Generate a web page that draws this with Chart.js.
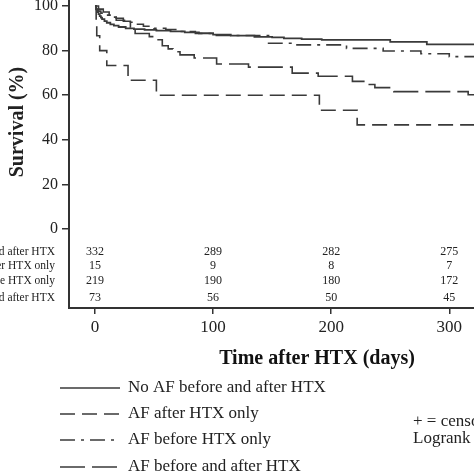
<!DOCTYPE html>
<html>
<head>
<meta charset="utf-8">
<script src="https://cdn.jsdelivr.net/npm/chart.js@4.4.1/dist/chart.umd.min.js"></script>
<style>
html, body { margin: 0; padding: 0; overflow: hidden; background: #fff; width: 474px; height: 474px; }
canvas { display: block; }
</style>
</head>
<body>
<canvas id="km" width="565" height="474"></canvas>
<script>
// group names (legend + number-at-risk rows)
var groups = ['No AF before and after HTX', 'AF after HTX only', 'AF before HTX only', 'AF before and after HTX'];

// survival curves, days / percent
var noAfDays = [0, 1, 2, 3, 4, 5, 6, 8, 10, 13, 16, 20, 26, 33, 42, 52, 64, 76, 88, 100, 115, 135, 150, 160, 175, 192, 250, 281, 398];
var noAfSurv = [100, 98.5, 97.3, 96.4, 95.5, 94.8, 94.1, 93.2, 92.5, 91.8, 91.2, 90.6, 90.0, 89.6, 89.3, 89.0, 88.6, 88.2, 87.8, 87.2, 86.7, 86.2, 85.9, 85.5, 85.2, 84.8, 83.9, 82.8, 82.8];

var afAfterDays = [0, 1, 1.5, 4, 10, 28, 52, 190, 222, 398];
var afAfterSurv = [100, 93.3, 86.7, 80.0, 73.3, 66.7, 60.0, 53.3, 46.7, 46.7];

var afBeforeDays = [0, 1, 3, 5, 8, 12, 18, 25, 33, 41, 50, 60, 72, 85, 100, 147, 170, 213, 244, 276, 300, 398];
var afBeforeSurv = [100, 98.6, 97.7, 96.8, 95.9, 95.0, 93.6, 92.7, 91.8, 90.9, 90.0, 89.5, 88.6, 87.7, 86.8, 83.3, 82.6, 81.0, 79.8, 78.6, 77.3, 77.3];

var afBothDays = [0, 3, 7, 12, 18, 24, 30, 34, 46, 52, 57, 62, 66, 72, 84, 103, 130, 167, 189, 218, 229, 237, 253, 316, 398];
var afBothSurv = [100, 98.6, 97.3, 95.9, 94.5, 93.2, 90.4, 87.7, 86.3, 84.9, 82.2, 80.8, 79.5, 78.1, 76.7, 74.0, 72.6, 69.9, 68.5, 66.2, 64.8, 63.4, 61.6, 60.2, 60.2];

// number at risk
var riskDays = [0, 100, 200, 300];
var riskNoAf = [332, 289, 282, 275];
var riskAfAfter = [15, 9, 8, 7];
var riskAfBefore = [219, 190, 180, 172];
var riskAfBoth = [73, 56, 50, 45];

var xTicks = [0, 100, 200, 300];
var yTicks = [0, 20, 40, 60, 80, 100];

var ink = '#3a3a3a';
var serif = "'Liberation Serif', 'DejaVu Serif', serif";
var dashes = [[], [15, 7], [15, 6, 3, 6], [25, 7]];

function pts(days, surv) {
  return days.map(function(d, i) { return {x: d, y: surv[i]}; });
}

function curve(label, days, surv, dash, width) {
  return {
    label: label,
    data: pts(days, surv),
    stepped: true,
    borderColor: ink,
    borderWidth: width,
    borderDash: dash,
    pointRadius: 0,
    fill: false
  };
}

// risk table, y-title, legend and notes
var extras = {
  id: 'extras',
  afterDraw: function(chart) {
    var ctx = chart.ctx;
    var xs = chart.scales.x, ys = chart.scales.y;
    var rows = [riskNoAf, riskAfAfter, riskAfBefore, riskAfBoth];
    var rowVals = [-10.4, -16.7, -23.4, -30.8];
    ctx.save();
    ctx.fillStyle = '#222';
    ctx.textBaseline = 'middle';
    rows.forEach(function(r, i) {
      var y = ys.getPixelForValue(rowVals[i]);
      ctx.font = '11.5px ' + serif;
      ctx.textAlign = 'right';
      ctx.fillText(groups[i], 55, y);
      ctx.font = '12px ' + serif;
      ctx.textAlign = 'center';
      r.forEach(function(n, j) {
        ctx.fillText(String(n), xs.getPixelForValue(riskDays[j]), y);
      });
    });

    // y title
    ctx.save();
    ctx.translate(18, ys.getPixelForValue(48));
    ctx.rotate(-Math.PI / 2);
    ctx.textAlign = 'center';
    ctx.font = 'bold 20px ' + serif;
    ctx.fillText('Survival (%)', 0, 0);
    ctx.restore();

    // legend
    var legY = [388, 414, 440, 467];
    ctx.font = '17px ' + serif;
    ctx.textAlign = 'left';
    groups.forEach(function(g, i) {
      ctx.beginPath();
      ctx.setLineDash(dashes[i]);
      ctx.strokeStyle = ink;
      ctx.lineWidth = 1.6;
      ctx.moveTo(60, legY[i]);
      ctx.lineTo(120, legY[i]);
      ctx.stroke();
      ctx.fillText(g, 128, legY[i]);
    });
    ctx.setLineDash([]);
    ctx.fillText('+ = censored', 413, 422);
    ctx.fillText('Logrank test', 413, 439);
    ctx.restore();
  }
};

var chart = new Chart(document.getElementById('km'), {
  type: 'line',
  data: {
    datasets: [
      curve(groups[0], noAfDays, noAfSurv, dashes[0], 1.8),
      curve(groups[1], afAfterDays, afAfterSurv, dashes[1], 1.6),
      curve(groups[2], afBeforeDays, afBeforeSurv, dashes[2], 1.6),
      curve(groups[3], afBothDays, afBothSurv, dashes[3], 1.6)
    ]
  },
  options: {
    responsive: false,
    animation: false,
    layout: { padding: 0 },
    plugins: { legend: { display: false }, tooltip: { enabled: false } },
    scales: {
      x: {
        type: 'linear',
        min: -22,
        max: 398,
        afterBuildTicks: function(s) { s.ticks = xTicks.map(function(v) { return {value: v}; }); },
        afterFit: function(s) { s.height = 166; s.paddingLeft = 0; s.paddingRight = 0; },
        ticks: { color: '#222', font: { family: serif, size: 17 }, padding: 3, maxRotation: 0 },
        grid: { drawOnChartArea: false, tickLength: 6, color: '#333', lineWidth: 1.5 },
        border: { color: '#333', width: 2 },
        title: { display: true, text: 'Time after HTX (days)', color: '#111',
                 font: { family: serif, size: 20, weight: 'bold' }, padding: { top: 0, bottom: 103 } }
      },
      y: {
        min: -35.4,
        max: 102.7,
        afterBuildTicks: function(s) { s.ticks = yTicks.map(function(v) { return {value: v}; }); },
        afterFit: function(s) { s.width = 69; s.paddingTop = 0; s.paddingBottom = 0; },
        ticks: { color: '#222', font: { family: serif, size: 16 }, padding: 4 },
        grid: { drawOnChartArea: false, tickLength: 7, color: '#333', lineWidth: 1.5 },
        border: { color: '#333', width: 2 }
      }
    }
  },
  plugins: [extras]
});
</script>
</body>
</html>
